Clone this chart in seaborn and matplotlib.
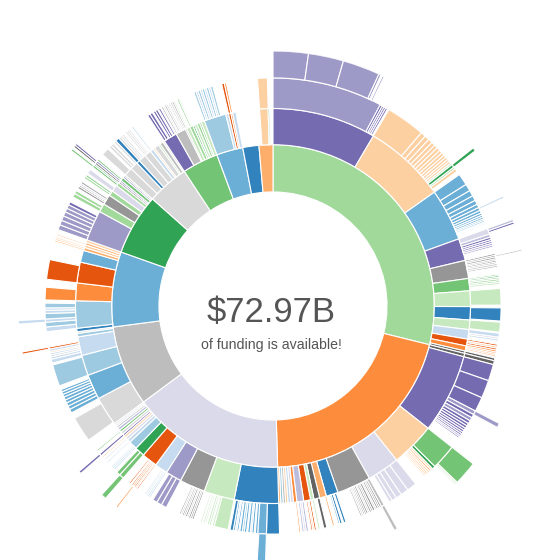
import numpy as np
import matplotlib
matplotlib.use("Agg")
import matplotlib.pyplot as plt
import seaborn as sns

# ---------------- data (funding shares) ----------------
total_label = "$72.97B"
subtitle = "of funding is available!"

# ring 1 (top-level categories, clockwise from 12 o'clock)
ring1_values = [103.7, 74.3, 55.0, 29.0, 27.0, 22.0, 15.0, 13.0, 9.5, 5.8, 5.0]
ring1_colors = "G2 O1 P3 K2 B1 G0 K3 G1 B1 B0 O2"

# ring 2: children of each ring-1 node
ring2_values = {
    (0,): [30.5, 24.2, 15.3, 6.5, 5.3, 3.6, 4.6, 3.9, 2.8, 2.8, 2.0, 1.5, 0.7],
    (1,): [1.0, 23.3, 13.0, 9.5, 10.0, 3.5, 2.0, 1.7, 1.0, 2.0, 2.0, 1.0, 0.8, 0.8, 0.7, 0.7, 0.7, 0.6],
    (2,): [13.0, 9.0, 7.5, 4.7, 3.8, 4.6, 2.9, 2.5, 1.0, 0.8, 0.7, 0.6, 0.8, 0.7, 0.8, 0.6, 0.5, 0.5],
    (3,): [8.6, 7.4, 6.0, 5.5, 1.0, 0.5],
    (4,): [1.0, 8.0, 5.2, 6.1, 3.5, 0.9, 0.8, 0.7, 0.8],
    (5,): [9.0, 2.5, 3.0, 1.5, 2.0, 1.0, 0.5, 0.5, 1.0, 0.5, 0.5],
    (6,): [2.5, 2.3, 1.0, 2.2, 2.0, 1.0, 0.5, 1.5, 0.5, 1.0, 0.5],
    (7,): [4.0, 3.0, 0.4, 1.0, 1.0, 0.5, 0.8, 0.8, 0.5, 1.0],
    (8,): [6.5, 0.8, 0.7, 0.5, 1.0],
    (10,): [1.1, 2.5, 0.4, 1.0],
}
ring2_colors = {
    (0,): "P0 O3 B1 P0 K1 G1 G3 B0 G3 B3 O0 O1 K0",
    (1,): "K0 P0 O3 P3 K1 B0 O2 K0 G3 O0 P2 O1 P3 B3 O3 K2 B2 O2",
    (2,): "B0 G3 K1 P1 B3 O0 G0 B2 B3 P3 O3 P0 K3 G1 P2 K2 B3 K3",
    (3,): "K3 B1 B2 B3 B2 K3",
    (4,): "B0 B2 O1 O0 B1 O2 O3 O2 O3",
    (5,): "P1 G2 K1 G2 P3 G2 K0 P0 G1 P0 K2",
    (6,): "K3 K3 B0 K3 K3 B3 O3 K3 G2 K2 K3",
    (7,): "P0 K2 K0 G3 G2 G0 G3 G2 G1 G3",
    (8,): "B2 B3 O0 O1 B3",
    (10,): "-- O3 G0 --",
}

# ring 3: children of ring-2 nodes
ring3_values = {
    (0, 0): [28.0, 0.6, 0.5, 0.5, 0.5],
    (0, 1): [10.0, 1.3, 1.2, 1.1, 1.0, 0.9, 0.9, 0.8, 0.8, 0.7, 0.7, 0.6, 0.6, 0.5, 0.8, 0.5, 0.8],
    (0, 2): [3.0, 1.8, 1.5, 1.3, 1.1, 0.9, 0.8, 0.7, 0.6, 0.5, 0.5, 0.4, 0.4, 0.3, 0.3],
    (0, 3): [1.5, 0.8, 0.6, 0.5, 0.5, 0.5, 0.4],
    (0, 4): [0.5, 0.4, 0.5, 0.4, 0.4, 0.4, 0.5, 0.4],
    (0, 5): [0.4, 0.4, 0.4, 0.5, 0.4, 0.5],
    (0, 6): [4.2],
    (0, 7): [0.3, 3.3],
    (0, 8): [2.5],
    (0, 9): [1.0, 0.5, 0.5],
    (0, 10): [0.5, 0.5, 0.5, 0.5],
    (0, 11): [0.4, 0.4, 0.4, 0.3],
    (0, 12): [0.7],
    (1, 0): [1.0],
    (1, 1): [4.2, 4.6, 3.7, 1.0, 0.9, 0.9, 0.8, 0.7, 0.7, 0.6, 0.6, 0.5, 0.5, 0.4, 0.4],
    (1, 2): [6.5, 0.8, 0.5, 0.5, 0.5, 0.5, 0.4, 0.4],
    (1, 3): [2.5, 2.0, 1.5, 1.2, 0.8],
    (1, 4): [0.8, 0.5, 0.4, 0.5, 0.4, 0.6, 0.4, 0.5, 0.4, 0.5, 0.4, 0.4, 0.4, 0.4],
    (1, 5): [0.5, 0.6, 0.4, 0.6, 0.4],
    (1, 6): [0.5],
    (1, 7): [0.8],
    (1, 8): [0.5],
    (1, 9): [0.5, 0.4, 0.4],
    (1, 10): [0.6, 0.5, 0.5],
    (1, 11): [0.4],
    (2, 0): [3.3, 2.2, 0.6, 0.3, 0.6, 0.4, 0.6, 0.3, 0.6, 0.5, 0.6, 0.3, 0.5, 0.4, 0.5, 0.8],
    (2, 1): [3.6, 0.5, 0.3, 0.5, 0.5, 0.3, 0.4, 0.4, 0.3, 0.4],
    (2, 2): [0.5, 0.4, 0.5, 0.4, 0.5, 0.4, 0.4, 0.4, 0.4],
    (2, 3): [1.4, 1.3, 1.2],
    (2, 4): [0.5, 0.4, 0.4, 0.4],
    (2, 5): [0.4, 0.4, 0.4, 0.4, 0.4, 0.3, 0.4],
    (2, 6): [1.2, 1.0],
    (2, 7): [0.5, 0.4, 0.4],
    (2, 8): [0.4],
    (2, 9): [0.4],
    (2, 10): [0.4],
    (2, 11): [0.6],
    (2, 13): [0.4],
    (3, 0): [0.5, 6.5],
    (3, 1): [1.0, 0.9, 0.9, 0.8, 0.8, 0.7, 0.7, 0.6],
    (3, 2): [5.5],
    (3, 3): [1.0, 0.6, 0.5, 0.5, 0.4, 0.6, 0.5],
    (4, 1): [1.2, 1.2, 0.8, 1.4, 0.8, 0.6, 1.2],
    (4, 2): [3.2],
    (4, 3): [5.0],
    (4, 5): [0.5, 0.4],
    (4, 6): [0.4],
    (4, 7): [0.4, 0.3],
    (5, 0): [1.3, 1.2, 1.2, 1.1, 1.0, 1.0, 0.8],
    (5, 1): [1.0, 0.8],
    (5, 2): [0.6, 0.4, 0.5, 0.5],
    (5, 3): [0.6, 0.5],
    (5, 4): [1.2],
    (5, 5): [0.6, 0.4],
    (5, 6): [0.5],
    (5, 7): [0.5],
    (5, 8): [0.5],
    (6, 0): [2.0],
    (6, 1): [0.7, 0.7, 0.3, 0.6],
    (6, 2): [1.0],
    (6, 3): [0.6, 0.5, 0.5, 0.3],
    (6, 4): [0.5, 0.5, 0.4],
    (6, 5): [0.5, 0.3],
    (7, 0): [0.7, 0.7, 0.3, 0.6, 0.6, 0.3, 0.5],
    (7, 1): [0.5, 0.4, 0.5, 0.4, 0.3, 0.4, 0.5],
    (7, 2): [0.4],
    (7, 3): [0.4, 0.3, 0.3],
    (7, 4): [0.5, 0.3],
    (8, 0): [0.6, 0.5, 0.6, 0.5, 0.6, 0.5, 0.6, 0.5, 0.6],
    (8, 2): [0.7],
    (8, 3): [0.5],
    (10, 1): [2.5],
}
ring3_colors = {
    (0, 0): "P1 P0 P0 P0 P0",
    (0, 1): "O3 O3 O3 O3 O3 O3 O3 O3 O3 O3 O3 O3 O3 G3 G0 G2 O3",
    (0, 2): "B1 B1 B1 B1 B1 B1 B1 B1 B1 B1 B1 B1 B1 B1 B1",
    (0, 3): "P3 P2 P0 P0 P0 P1 P0",
    (0, 4): "K1 K0 K1 K1 K0 K1 K2 K1",
    (0, 5): "G1 G0 G1 G2 G1 G3",
    (0, 6): "G3",
    (0, 7): "-- B0",
    (0, 8): "G3",
    (0, 9): "B3 P3 B3",
    (0, 10): "O0 O3 O0 O1",
    (0, 11): "O1 O2 O1 K0",
    (0, 12): "K0",
    (1, 0): "K0",
    (1, 1): "P0 P0 P0 P1 P0 P1 P0 P0 P0 P0 P0 P0 P0 P0 P0",
    (1, 2): "G1 G0 O3 O2 O3 O3 O2 O3",
    (1, 3): "P3 P3 P3 P3 P3",
    (1, 4): "K2 K1 K0 K1 K2 K1 K0 K1 K2 K1 K0 K1 K2 K1",
    (1, 5): "-- B0 -- B0 B1",
    (1, 6): "O2",
    (1, 7): "K0",
    (1, 8): "G3",
    (1, 9): "O0 O3 O0",
    (1, 10): "P2 P3 P2",
    (1, 11): "O1",
    (2, 0): "B0 B1 B1 -- B1 B3 B1 -- B1 B2 B1 -- B1 B3 B1 B0",
    (2, 1): "G3 G3 -- G3 G3 -- G3 G3 -- G3",
    (2, 2): "K1 K0 K1 K2 K1 K1 K0 K2 K1",
    (2, 3): "P1 P1 P1",
    (2, 4): "B3 B2 B3 B3",
    (2, 5): "O0 O3 O0 O1 O0 O3 O0",
    (2, 6): "G1 G1",
    (2, 7): "B3 B2 B3",
    (2, 8): "B3",
    (2, 9): "P3",
    (2, 10): "O3",
    (2, 11): "P0",
    (2, 13): "G1",
    (3, 0): "-- K3",
    (3, 1): "B1 B1 B1 B1 B1 B1 B1 B1",
    (3, 2): "B2",
    (3, 3): "B3 B3 K3 B3 O3 B3 O0",
    (4, 1): "B3 B2 B3 B2 B3 B3 B2",
    (4, 2): "O1",
    (4, 3): "O0",
    (4, 5): "O3 O2",
    (4, 6): "O3",
    (4, 7): "O2 O3",
    (5, 0): "P1 P1 P1 P1 P1 P1 P0",
    (5, 1): "G2 G2",
    (5, 2): "K1 K0 P3 K1",
    (5, 3): "G2 G1",
    (5, 4): "P3",
    (5, 5): "G1 G0",
    (5, 6): "K0",
    (5, 7): "P0",
    (5, 8): "G1",
    (6, 0): "K3",
    (6, 1): "K3 K3 O3 K3",
    (6, 2): "B0",
    (6, 3): "K3 K3 K3 O3",
    (6, 4): "K3 K3 P3",
    (6, 5): "B3 K3",
    (7, 0): "P0 P0 -- P0 P0 -- P0",
    (7, 1): "K2 K3 K2 K2 K0 K2 K3",
    (7, 2): "K0",
    (7, 3): "G3 G2 G3",
    (7, 4): "G2 G0",
    (8, 0): "B2 B3 B2 B3 B2 B3 B2 B3 B2",
    (8, 2): "O0",
    (8, 3): "O1",
    (10, 1): "O3",
}

# ring 4: children of ring-3 nodes
ring4_values = {
    (0, 0, 0): [8.0, 8.0, 8.5, 0.5, 0.4, 0.4],
    (0, 1, 14): [0.8],
    (0, 2, 6): [0.5],
    (0, 3, 0): [0.6, 0.5],
    (0, 4, 1): [0.4],
    (1, 1, 3): [1.0],
    (1, 2, 0): [5.5, 0.4, 0.3],
    (1, 4, 0): [0.8],
    (2, 0, 1): [1.9],
    (2, 5, 3): [0.4],
    (2, 6, 0): [1.2],
    (2, 11, 0): [0.6],
    (3, 3, 6): [0.5],
    (4, 1, 2): [0.8],
    (5, 5, 0): [0.5],
    (5, 6, 0): [0.5],
    (5, 7, 0): [0.5],
}
ring4_colors = {
    (0, 0, 0): "P1 P1 P1 P1 -- P1",
    (0, 1, 14): "G0",
    (0, 2, 6): "B3",
    (0, 3, 0): "P2 P0",
    (0, 4, 1): "K2",
    (1, 1, 3): "P1",
    (1, 2, 0): "G1 G3 G2",
    (1, 4, 0): "K2",
    (2, 0, 1): "B1",
    (2, 5, 3): "O1",
    (2, 6, 0): "G1",
    (2, 11, 0): "P0",
    (3, 3, 6): "O0",
    (4, 1, 2): "B3",
    (5, 5, 0): "G1",
    (5, 6, 0): "K0",
    (5, 7, 0): "P0",
}

# ---------------- style ----------------
PALETTE = {  # d3 category20c
    "B0": "#3182bd", "B1": "#6baed6", "B2": "#9ecae1", "B3": "#c6dbef",
    "O0": "#e6550d", "O1": "#fd8d3c", "O2": "#fdae6b", "O3": "#fdd0a2",
    "G0": "#31a354", "G1": "#74c476", "G2": "#a1d99b", "G3": "#c7e9c0",
    "P0": "#756bb1", "P1": "#9e9ac8", "P2": "#bcbddc", "P3": "#dadaeb",
    "K0": "#636363", "K1": "#969696", "K2": "#bdbdbd", "K3": "#d9d9d9",
}

sns.set_theme(style="white")
plt.rcParams['font.family'] = ['Liberation Sans', 'DejaVu Sans']

levels_values = [{(): ring1_values}, ring2_values, ring3_values, ring4_values]
levels_colors = [{(): ring1_colors}, ring2_colors, ring3_colors, ring4_colors]
total = sum(ring1_values)

W, H = 549, 560
cx, cy, R = 273, 306, 255  # pixel centre and outer radius
fig = plt.figure(figsize=(W / 100, H / 100), dpi=100)
fig.patch.set_facecolor("white")
ax = fig.add_axes([(cx - R) / W, (H - cy - R) / H, 2 * R / W, 2 * R / H], projection="polar")
ax.set_theta_zero_location("N")
ax.set_theta_direction(-1)
ax.set_ylim(0, np.sqrt(5))


def draw(depth, key, start):
    if depth >= len(levels_values) or key not in levels_values[depth]:
        return
    vals = levels_values[depth][key]
    cols = levels_colors[depth][key].split()
    n_common = min(len(vals), len(cols))
    inner, outer = np.sqrt(depth + 1), np.sqrt(depth + 2)
    pos = start
    for n in range(n_common):
        v, c = vals[n], cols[n]
        w = v / total * 2 * np.pi
        if c != "--":
            ax.bar(pos + w / 2, outer - inner, width=w, bottom=inner,
                   color=PALETTE[c], edgecolor="white", linewidth=0.8, align="center")
        draw(depth + 1, key + (n,), pos)
        pos += w


draw(0, (), 0.0)
ax.set_axis_off()

fig.text(271.5 / W, 1 - 322 / H, total_label, ha="center", va="baseline",
         fontsize=25, color="#555555")
fig.text(271.5 / W, 1 - 349 / H, subtitle, ha="center", va="baseline",
         fontsize=10.2, color="#555555")

fig.savefig("out.png", dpi=100, facecolor="white")
